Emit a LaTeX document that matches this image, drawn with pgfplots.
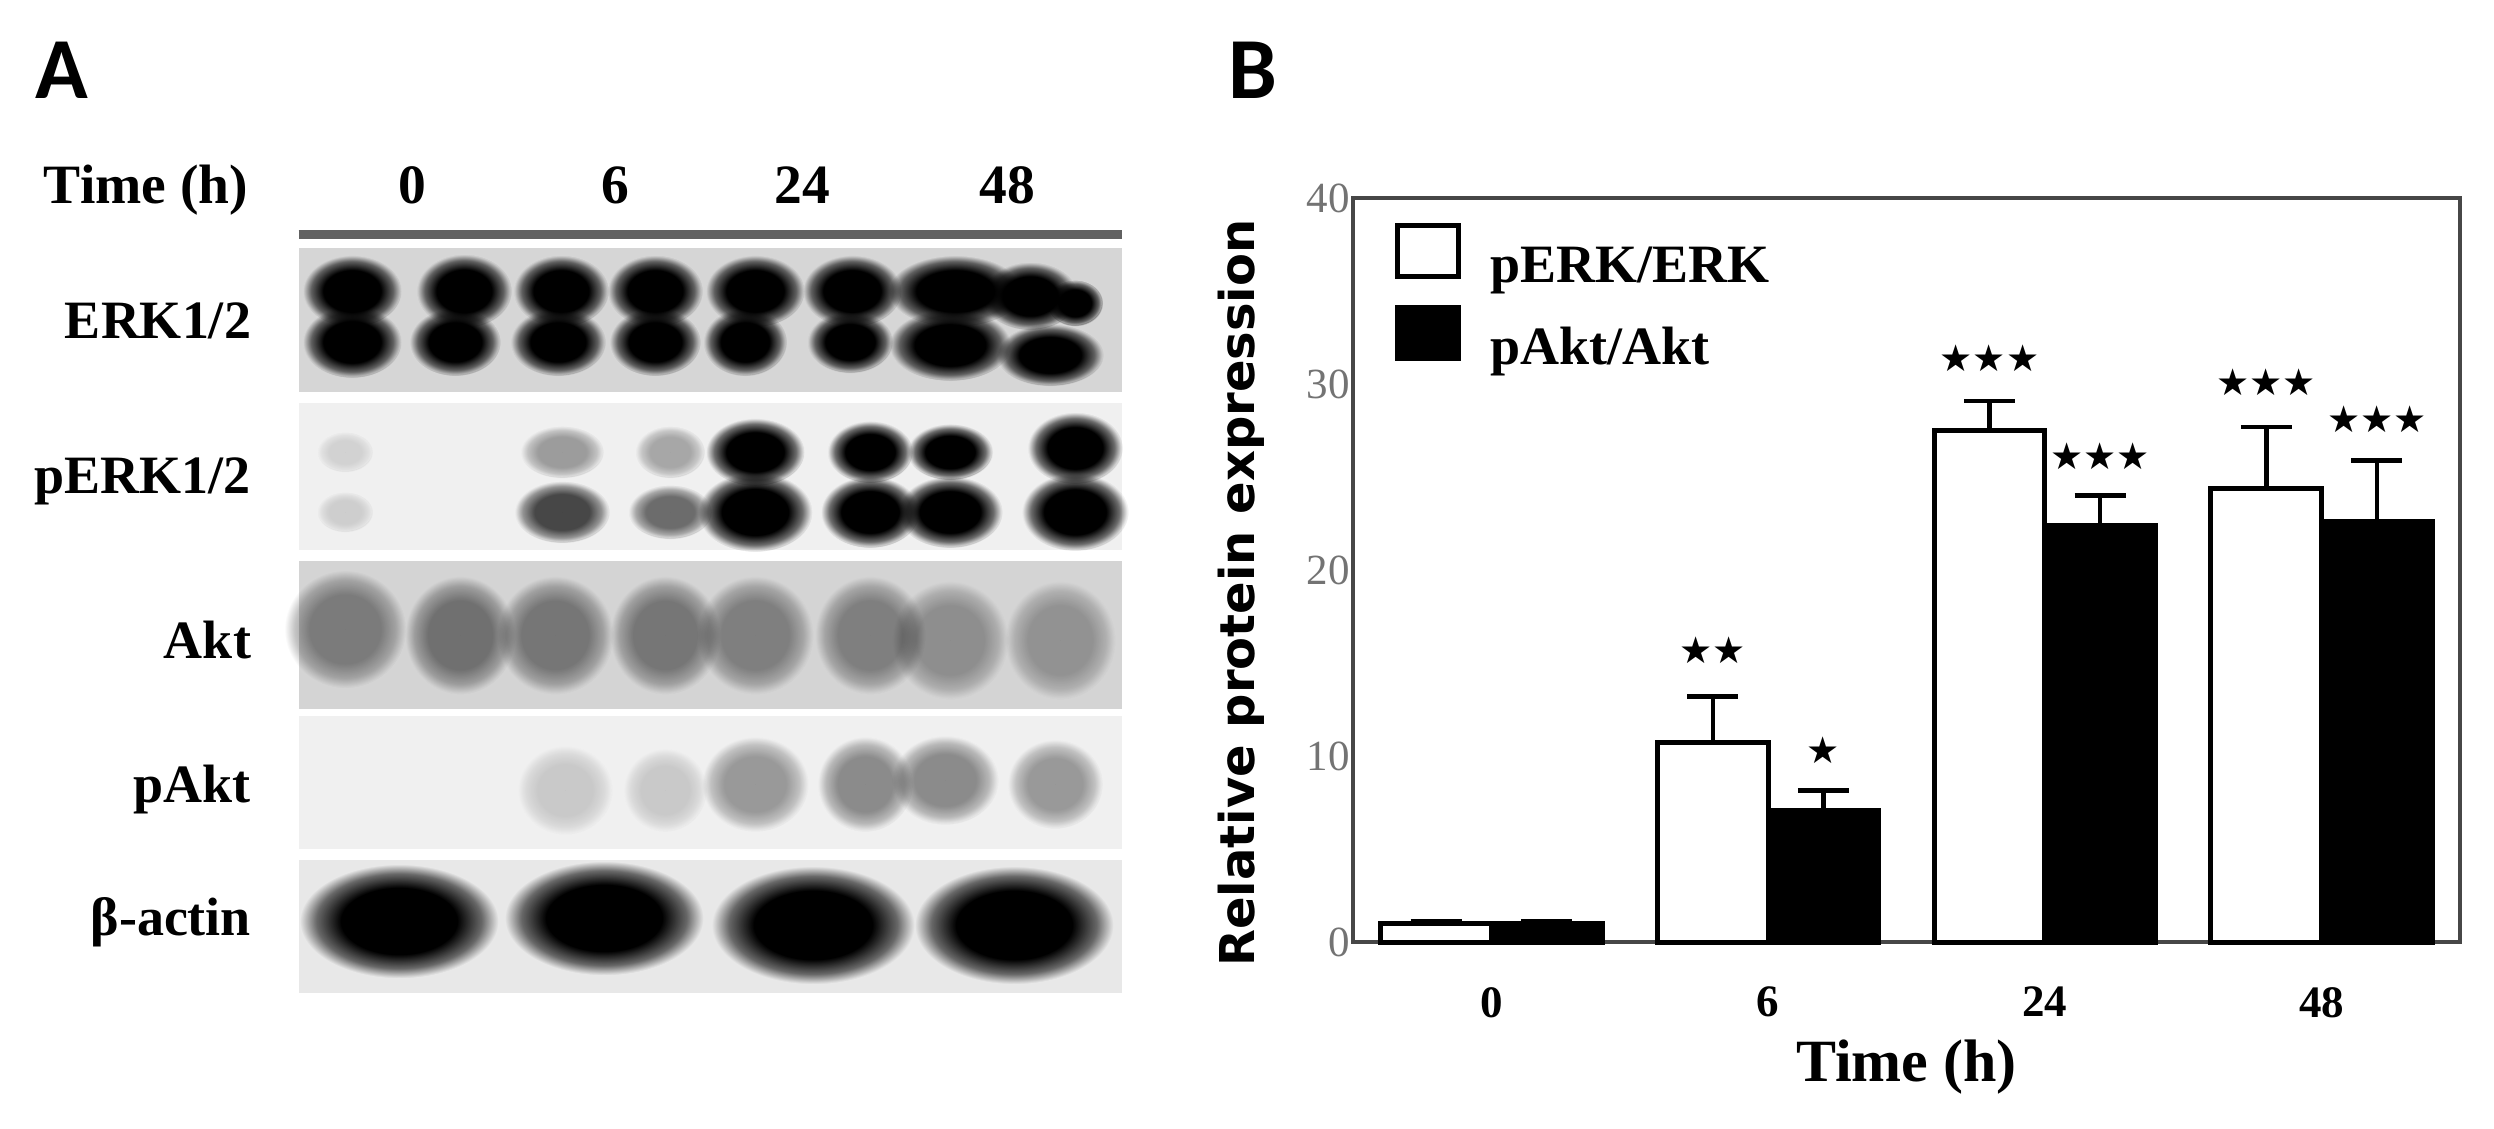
\documentclass[border=0pt]{standalone}
\usepackage{fontspec}
\setmainfont{Liberation Serif}
\newfontfamily\carlito{Carlito}
\newfontfamily\dejavu{DejaVu Sans}
\usepackage{pgfplots}
\usepackage{pgfplotstable}
\pgfplotsset{compat=1.18}
\usetikzlibrary{fadings}

\pgfdeclareradialshading{blobshade}{\pgfpointorigin}{color(0bp)=(pgftransparent!0); color(14bp)=(pgftransparent!0); color(20bp)=(pgftransparent!45); color(24bp)=(pgftransparent!100); color(28.35bp)=(pgftransparent!100)}
\pgfdeclarefading{blob}{\pgfuseshading{blobshade}}

% blot bands: x y (image px), radii rx ry (px), opacity o
\pgfplotstableread{
x y rx ry o
352 291 50 36 1
464 291 48 37 1
561 291 48 36 1
655 291 48 36 1
755 291 50 36 1
852 291 50 36 1
955 291 68 36 1
1030 296 48 34 1
1075 303 28 23 1
352 342 50 36 1
455 342 46 34 1
558 342 48 34 1
655 342 46 34 1
745 342 42 34 1
850 342 43 31 1
950 345 62 36 1
1050 355 54 31 1
345 452 28 20 0.12
345 512 28 20 0.14
562 452 42 26 0.35
670 452 35 26 0.3
562 512 48 31 0.7
670 512 42 27 0.55
755 452 50 34 1
870 452 43 31 1
755 512 58 40 1
870 512 50 36 1
950 452 43 28 1
1075 448 48 36 1
950 512 53 36 1
1075 512 54 39 1
345 629 62 60 0.42
460 635 56 60 0.47
555 635 59 60 0.44
665 635 56 60 0.44
755 635 59 60 0.4
870 635 56 60 0.4
950 640 59 60 0.33
1060 640 56 60 0.31
565 790 48 45 0.16
665 790 42 42 0.16
755 784 54 48 0.36
865 784 48 48 0.42
945 780 54 45 0.42
1055 784 48 45 0.36
399 921 102 58 1
604 918 102 58 1
813 925 104 60 1
1014 925 102 60 1
}\bands

\begin{document}
\begin{tikzpicture}
\path[use as bounding box] (0,0) rectangle (498.8pt,225.6pt);

%================ Panel A (coordinates in image pixels) ================
\begin{axis}[at={(0pt,0pt)}, anchor=south west, scale only axis,
  width=498.8pt, height=225.6pt, xmin=0, xmax=2494, ymin=0, ymax=1128,
  y dir=reverse, hide axis, clip=false]
 % membrane strips
 \addplot[fill=black!16, draw=none] coordinates {(298.5,248) (1122,248) (1122,392) (298.5,392)};
 \addplot[fill=black!6, draw=none] coordinates {(298.5,403) (1122,403) (1122,550) (298.5,550)};
 \addplot[fill=black!17, draw=none] coordinates {(298.5,561) (1122,561) (1122,709) (298.5,709)};
 \addplot[fill=black!6, draw=none] coordinates {(298.5,716) (1122,716) (1122,849) (298.5,849)};
 \addplot[fill=black!9, draw=none] coordinates {(298.5,860) (1122,860) (1122,993) (298.5,993)};
 % line above the blots
 \addplot[draw=black!62, line width=1.8pt] coordinates {(298.5,234) (1122,234)};
 % bands
 \addplot[scatter, only marks, mark size=0pt, mark options={draw=none,fill=none},
   point meta=explicit,
   visualization depends on={\thisrow{rx} \as \brx},
   visualization depends on={\thisrow{ry} \as \bry},
   visualization depends on={\thisrow{o} \as \bop},
   scatter/@pre marker code/.code={%
     \fill[black, opacity=\bop, path fading=blob]
       (0,0) ellipse [x radius={0.2pt*\brx}, y radius={0.2pt*\bry}];},
   scatter/@post marker code/.code={}]
   table[x=x, y=y, meta=o] {\bands};
 % texts
 \node[anchor=base west, inner sep=0pt] at (axis cs:34,98) {\carlito\bfseries\fontsize{17.4}{20}\selectfont A};
 \node[anchor=base west, inner sep=0pt] at (axis cs:1227,98) {\carlito\bfseries\fontsize{17.4}{20}\selectfont B};
 \node[anchor=base west, inner sep=0pt] at (axis cs:43,203.6) {\fontsize{11.1}{13}\selectfont\bfseries Time (h)};
 \node[anchor=base, inner sep=0pt] at (axis cs:412,203.6) {\fontsize{11.1}{13}\selectfont\bfseries 0};
 \node[anchor=base, inner sep=0pt] at (axis cs:615,203.6) {\fontsize{11.1}{13}\selectfont\bfseries 6};
 \node[anchor=base, inner sep=0pt] at (axis cs:802,203.6) {\fontsize{11.1}{13}\selectfont\bfseries 24};
 \node[anchor=base, inner sep=0pt] at (axis cs:1007,203.6) {\fontsize{11.1}{13}\selectfont\bfseries 48};
 \node[anchor=base east, inner sep=0pt] at (axis cs:252,338) {\fontsize{10.8}{13}\selectfont\bfseries ERK1/2};
 \node[anchor=base east, inner sep=0pt] at (axis cs:252,493) {\fontsize{10.8}{13}\selectfont\bfseries pERK1/2};
 \node[anchor=base east, inner sep=0pt] at (axis cs:252,658) {\fontsize{10.8}{13}\selectfont\bfseries Akt};
 \node[anchor=base east, inner sep=0pt] at (axis cs:252,802) {\fontsize{10.8}{13}\selectfont\bfseries pAkt};
 \node[anchor=base east, inner sep=0pt] at (axis cs:252,935) {\fontsize{10.8}{13}\selectfont\bfseries β-actin};
\end{axis}

%================ Panel B ================
\begin{axis}[at={(270.6pt,37.2pt)}, anchor=south west, scale only axis,
  width=221.4pt, height=148.8pt,
  xmin=-0.5, xmax=3.5, ymin=0, ymax=40,
  axis line style={line width=0.9pt, black!72},
  xtick={0,1,2,3}, xticklabels={0,6,24,48},
  xtick style={draw=none}, ytick style={draw=none},
  xticklabel style={font=\fontsize{9}{10}\selectfont\bfseries, yshift=-5.5pt},
  ytick={0,10,20,30,40}, yticklabels={0,10,20,30,40},
  yticklabel style={font=\fontsize{8.6}{9}\selectfont, text=black!55, inner sep=0.5pt},
  legend style={at={(axis description cs:0,1)}, anchor=north west,
    xshift=8.2pt, yshift=-4.8pt, draw=none, fill=none, inner sep=0pt,
    font=\fontsize{10.8}{12}\selectfont\bfseries,
    nodes={inner sep=0pt, text height=8pt, text depth=2.6pt},
    row sep=2pt, column sep=6pt},
  legend cell align=left,
  clip=false]
 % pERK/ERK bars at group position - 0.2
 \addplot[ybar, bar width=0.4, bar shift=0, fill=white, draw=black, line width=1pt,
   legend image code/.code={\draw[fill=white, draw=black, line width=0.9pt] (0pt,-1.5pt) rectangle (12.2pt,8.7pt);},
   error bars/.cd, y dir=plus, y explicit,
   error bar style={line width=0.9pt, black},
   error mark options={rotate=90, mark size=5.1pt, line width=0.9pt, black}]
   coordinates {(-0.2,1.0) +- (0,0.1) (0.8,10.7) +- (0,2.5) (1.8,27.5) +- (0,1.6) (2.8,24.4) +- (0,3.3)};
 \addlegendentry{pERK/ERK}
 % pAkt/Akt bars at group position + 0.2
 \addplot[ybar, bar width=0.4, bar shift=0, fill=black, draw=black, line width=1pt,
   legend image code/.code={\draw[fill=black, draw=black, line width=0.9pt] (0pt,-1.5pt) rectangle (12.2pt,8.7pt);},
   error bars/.cd, y dir=plus, y explicit,
   error bar style={line width=0.9pt, black},
   error mark options={rotate=90, mark size=5.1pt, line width=0.9pt, black}]
   coordinates {(0.2,1.0) +- (0,0.1) (1.2,7.05) +- (0,1.1) (2.2,22.4) +- (0,1.6) (3.2,22.6) +- (0,3.3)};
 \addlegendentry{pAkt/Akt}
 % significance stars
 \node at (axis cs:0.8,15.7) {\dejavu\fontsize{7.4}{8}\selectfont ★★};
 \node at (axis cs:1.2,10.3) {\dejavu\fontsize{7.4}{8}\selectfont ★};
 \node at (axis cs:1.8,31.4) {\dejavu\fontsize{7.4}{8}\selectfont ★★★};
 \node at (axis cs:2.2,26.1) {\dejavu\fontsize{7.4}{8}\selectfont ★★★};
 \node at (axis cs:2.8,30.1) {\dejavu\fontsize{7.4}{8}\selectfont ★★★};
 \node at (axis cs:3.2,28.1) {\dejavu\fontsize{7.4}{8}\selectfont ★★★};
 % axis titles
 \node[anchor=base, inner sep=0pt] at ([yshift=-27.8pt]axis description cs:0.5,0) {\fontsize{12}{14}\selectfont\bfseries Time (h)};
 \node[anchor=center, rotate=90, inner sep=0pt] at ([xshift=-22.4pt,yshift=-4.6pt]axis description cs:0,0.5) {\dejavu\bfseries\fontsize{9.6}{11}\selectfont Relative protein expression};
\end{axis}
\end{tikzpicture}
\end{document}
